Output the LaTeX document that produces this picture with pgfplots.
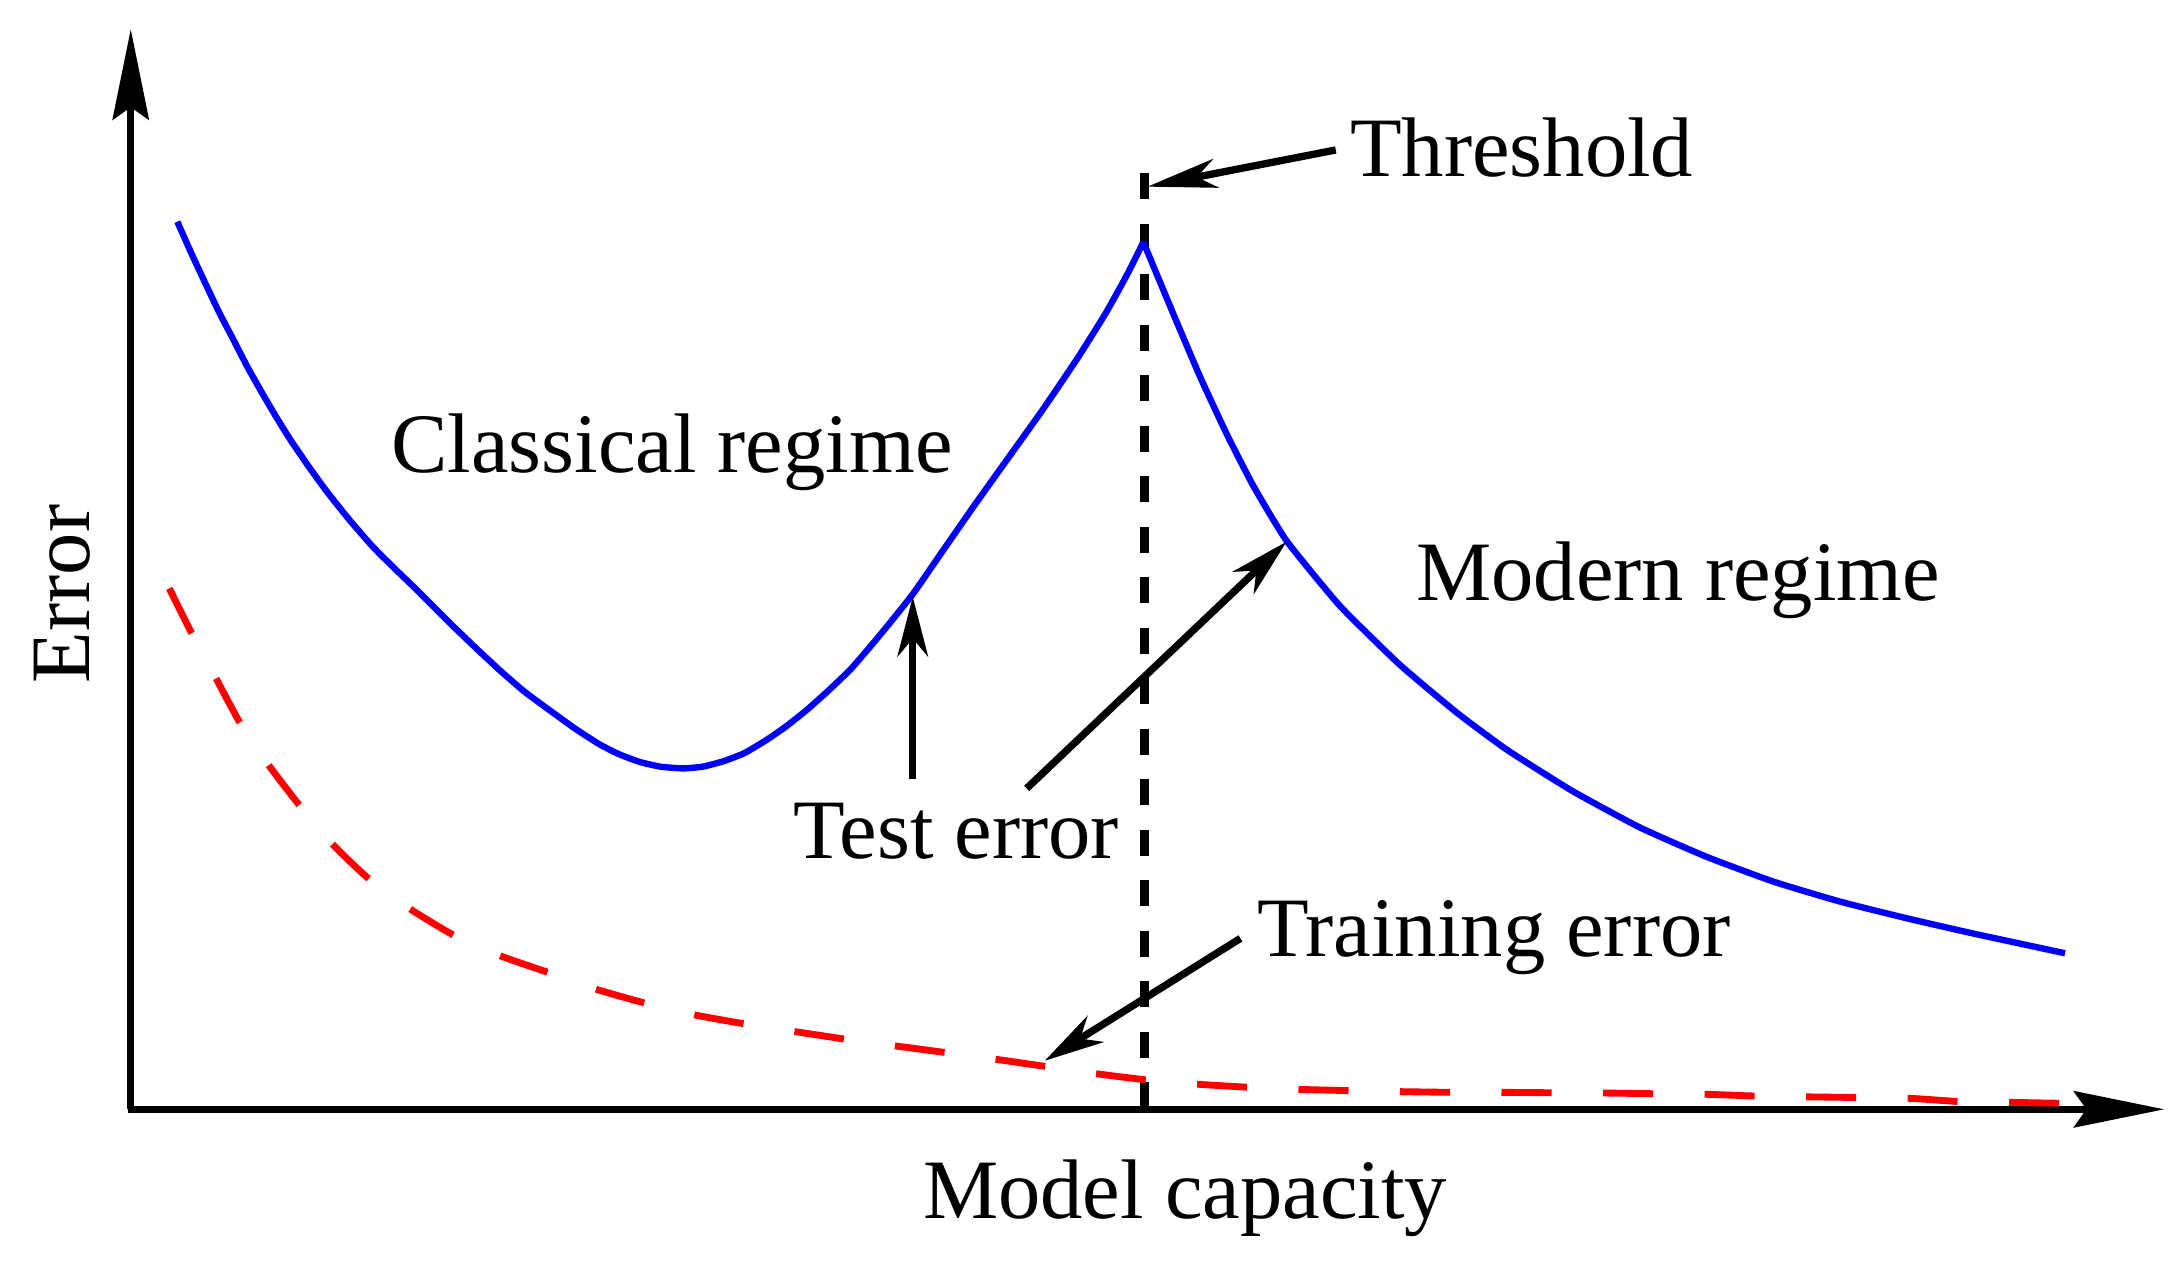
\documentclass[border=0pt]{standalone}
\usepackage{fontspec}
\setmainfont{Liberation Serif}
\usepackage{pgfplots}
\usepackage{pgfplotstable}
\pgfplotsset{compat=1.18}
\usetikzlibrary{arrows.meta}
\newcommand\lblfont{\fontsize{17.3}{20.8}\selectfont}
\tikzset{lbl/.style={font=\lblfont, inner sep=0pt, anchor=base west}}

\pgfplotstableread{
x y
127.5 159.4
138 183
148.6 205.8
158 225.5
168 244.6
178 264
189 283.5
199 300.5
209 316.5
222 335.5
235 353.4
251 373.5
268 393.0
284 409
300 424.4
313 437.5
326 450.4
343 466.7
360 482.5
377 497.2
395 510.5
413 523.5
431 535.1
445 542.2
460 547.8
475 551.2
491 552.4
505 551.2
520 547.3
535 541.5
551 532.0
565 522.3
580 510.4
595 497.0
611 481.7
624 466.8
637.5 450.6
656.6 426.6
678.2 395.4
700 364
725 329
750 294
775 257
795 225
810 198
822 174
}\testleft

\pgfplotstableread{
x y
822.0 174.0
843.5 225.6
862.7 270.7
881.9 312.0
901.1 349.4
925.1 389.0
963.4 435.7
1006.5 478.0
1047.3 512.3
1083.2 538.9
1130.0 568.4
1179.0 594.9
1227.0 616.0
1275.0 633.8
1323.0 648.2
1371.0 660.2
1419.0 671.2
1484.6 685.3
}\testright

\pgfplotstableread{
x y
121.7 423.0
137.8 455.3
155.3 487.7
172.5 519.6
193.6 550.7
215.7 579.5
239.6 607.5
264.8 631.5
296.0 654.2
325.9 672.2
360.0 687.3
394.7 699.3
429.0 711.3
464.2 721.3
499.7 729.7
536.1 736.2
572.0 741.7
608.5 747.2
644.2 752.0
680.6 756.8
716.4 761.6
753.1 766.9
789.4 772.1
825.4 776.5
861.7 779.5
898.0 781.7
934.7 783.2
971.4 784.1
1007.4 784.8
1044.1 785.3
1080.8 785.3
1117.5 785.6
1154.0 785.8
1190.2 786.3
1226.9 786.7
1263.7 788.0
1318.0 788.8
1372.5 789.6
1409.6 792.0
1445.8 792.5
1483.0 793.2
}\trainerr

\begin{document}
\begin{tikzpicture}
\begin{axis}[
  scale only axis,
  width=15.68cm, height=9.08cm,
  xmin=0, xmax=1568, ymin=0, ymax=908,
  y dir=reverse,
  hide axis,
  clip=false,
]
% axes
\draw[line width=1.4pt, -{Stealth[length=0.65cm, width=0.26cm, inset=0.09cm]}] (axis cs:94,797.5) -- (axis cs:94,21);
\draw[line width=1.4pt, -{Stealth[length=0.65cm, width=0.26cm, inset=0.09cm]}] (axis cs:92,797.5) -- (axis cs:1556,797.5);
% threshold
\draw[line width=1.75pt, dash pattern=on 0.187cm off 0.176cm] (axis cs:823,124.6) -- (axis cs:823,800);
% curves
\addplot[blue, line width=1.3pt, smooth, tension=0.3] table {\testleft};
\addplot[blue, line width=1.3pt, smooth, tension=0.3] table {\testright};
\addplot[red, line width=1.4pt, smooth, tension=0.3, dash pattern=on 0.36cm off 0.37cm] table {\trainerr};
% annotation arrows
\draw[line width=1.5pt, -{Stealth[length=0.5cm, width=0.21cm, inset=0.14cm]}] (axis cs:960.3,107.8) -- (axis cs:825,134.2);
\draw[line width=1.5pt, -{Stealth[length=0.43cm, width=0.22cm, inset=0.13cm]}] (axis cs:656.2,560.3) -- (axis cs:656.2,429);
\draw[line width=1.5pt, -{Stealth[length=0.43cm, width=0.22cm, inset=0.13cm]}] (axis cs:738.1,566.8) -- (axis cs:925,389.4);
\draw[line width=1.5pt, -{Stealth[length=0.43cm, width=0.22cm, inset=0.13cm]}] (axis cs:891.8,674.6) -- (axis cs:751.1,762.6);
% labels
\node[lbl] at (axis cs:970,127) {Threshold};
\node[lbl] at (axis cs:280.6,339.8) {Classical regime};
\node[lbl] at (axis cs:1017.5,431.8) {Modern regime};
\node[lbl] at (axis cs:570,617) {Test error};
\node[lbl] at (axis cs:903,687.3) {Training error};
\node[lbl, rotate=90] at (axis cs:64.2,491.8) {Error};
\node[lbl] at (axis cs:663,876) {Model capacity};
\end{axis}
\pgfresetboundingbox
\path (current axis.south west) rectangle (current axis.north east);
\end{tikzpicture}
\end{document}
